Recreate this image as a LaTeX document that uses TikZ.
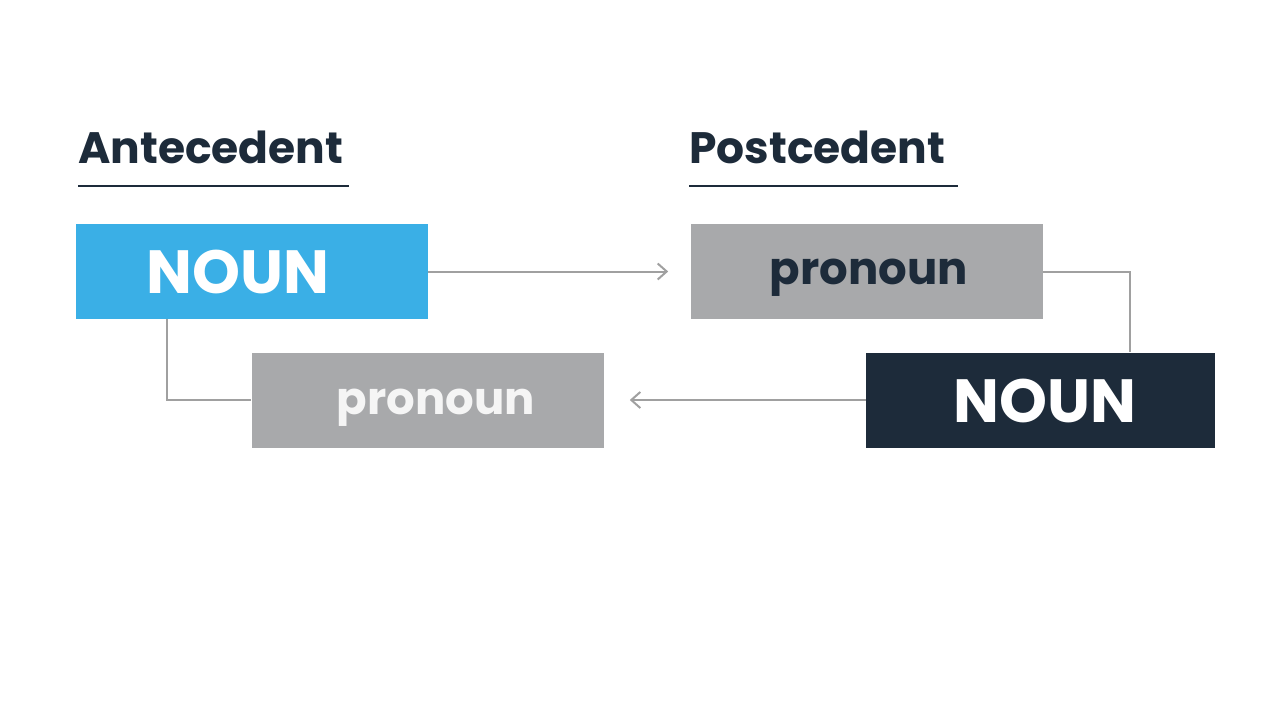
\documentclass[tikz,border=0pt]{standalone}
\usepackage{fontspec}
\setmainfont{Poppins}
\usetikzlibrary{arrows.meta}
\definecolor{cblue}{HTML}{3AAFE6}
\definecolor{cgray}{HTML}{A8A9AB}
\definecolor{cdark}{HTML}{1D2B3A}
\definecolor{cline}{HTML}{A0A0A0}
\begin{document}
\begin{tikzpicture}[x=1pt,y=-1pt,
  box/.style={minimum width=352pt,minimum height=95pt,inner sep=0pt},
  big/.style={font=\fontsize{61}{64}\selectfont\bfseries,inner sep=0pt,anchor=base},
  small/.style={font=\fontsize{45}{48}\selectfont\bfseries,inner sep=0pt,anchor=base},
  head/.style={font=\fontsize{44}{48}\selectfont\bfseries,text=cdark,inner sep=0pt,anchor=base west},
  conn/.style={draw=cline,line width=2pt},
  arr/.style={conn,-{Straight Barb[length=9pt,width=16pt,line width=2pt]}}]
\useasboundingbox (0,0) rectangle (1280,720);
\node[head] (h1) at (78,163) {Antecedent};
\node[head] (h2) at (689,163) {Postcedent};
\draw[cdark,line width=2pt] (78,186) -- (349,186);
\draw[cdark,line width=2pt] (689,186) -- (958,186);
\node[box,fill=cblue] (n1) at (252,271.5) {};
\node[box,fill=cgray] (p1) at (867,271.5) {};
\node[box,fill=cgray] (p2) at (427.5,400) {};
\node[box,fill=cdark,minimum width=349pt] (n2) at (1040.5,400) {};
\node[big,text=white] (t1) at (238,293) {NOUN};
\node[small,text=cdark] (t2) at (869,284) {pronoun};
\node[small,text=white!92!gray] (t3) at (436,414) {pronoun};
\node[big,text=white] (t4) at (1045,422) {NOUN};
\draw[arr] (n1.east) -- ++(240,0) coordinate (a1);
\draw[conn] (p1.east) -| (n2.north -| 1130,0);
\draw[conn] (n1.south -| 167,0) |- (p2.west);
\draw[arr] (n2.west) -- ++(-236,0) coordinate (a2);
\end{tikzpicture}
\end{document}
